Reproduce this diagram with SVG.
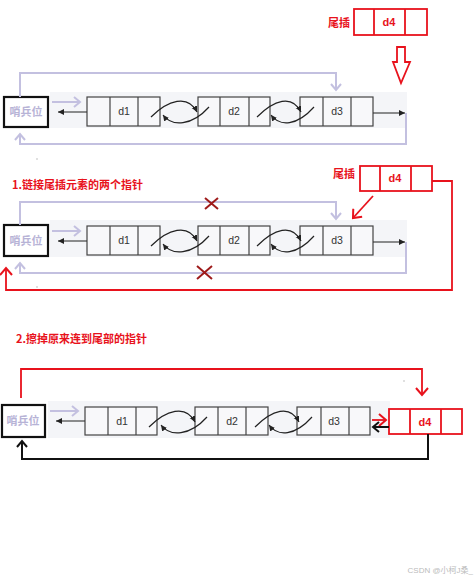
<svg xmlns="http://www.w3.org/2000/svg" width="474" height="578" viewBox="0 0 474 578">
<style>
.band{fill:#f4f5f8}
.box{fill:#f8f8fa;stroke:#444;stroke-width:1.2}
.sent{fill:#fff;stroke:#111;stroke-width:2.2}
.st{font-family:"Noto Sans CJK SC","Liberation Sans",sans-serif;font-weight:bold;font-size:11px;fill:#b7b3d6;text-anchor:middle}
.dt{font-family:"Liberation Sans",sans-serif;font-size:10.5px;fill:#333;text-anchor:middle}
.rt{font-family:"Liberation Sans",sans-serif;font-weight:bold;font-size:11px;fill:#e8121c;text-anchor:middle}
.lbl{font-family:"Noto Sans CJK SC",sans-serif;font-weight:bold;font-size:11px;fill:#e8121c}
.rbox{fill:#fff;stroke:#e8121c;stroke-width:1.8}
.pl{fill:none;stroke:#c3c0e0;stroke-width:2}
.bl{fill:none;stroke:#333;stroke-width:1.1}
.cv{fill:none;stroke:#222;stroke-width:1.2}
.red{fill:none;stroke:#e8121c;stroke-width:1.8}
.blk{fill:none;stroke:#111;stroke-width:2}
.x{stroke:#9e1b1b;stroke-width:2}
</style>
<defs>
<marker id="pa" markerWidth="12" markerHeight="12" refX="7" refY="6" orient="auto" markerUnits="userSpaceOnUse"><path d="M1,1 L7,6 L1,11" fill="none" stroke="#c3c0e0" stroke-width="2"/></marker>
<marker id="ba" markerWidth="8" markerHeight="8" refX="6" refY="4" orient="auto" markerUnits="userSpaceOnUse"><path d="M0,1 L6,4 L0,7 Z" fill="#222"/></marker>
<marker id="ra" markerWidth="14" markerHeight="14" refX="8" refY="7" orient="auto" markerUnits="userSpaceOnUse"><path d="M1,1 L8,7 L1,13" fill="none" stroke="#e8121c" stroke-width="2"/></marker>
<marker id="ka" markerWidth="12" markerHeight="12" refX="7" refY="6" orient="auto" markerUnits="userSpaceOnUse"><path d="M1,1 L7,6 L1,11" fill="none" stroke="#111" stroke-width="2"/></marker>
</defs>

<!-- ===== Section 1 ===== -->
<text class="lbl" x="328" y="27">尾插</text>
<g id="s1-d4">
<rect class="rbox" x="354" y="9" width="73" height="26"/>
<line class="rbox" x1="374" y1="9" x2="374" y2="35"/>
<line class="rbox" x1="405" y1="9" x2="405" y2="35"/>
<text class="rt" x="389" y="26">d4</text>
</g>
<path d="M397,47 H405 V62 H410 L401,83 L393,62 H397 Z" fill="#fff" stroke="#e8121c" stroke-width="1.8"/>

<g id="sec1">
<rect class="band" x="50" y="92" width="357" height="36"/>
<g id="s1-sentinel"><rect class="sent" x="4" y="97" width="44" height="30"/><text class="st" x="26" y="116">哨兵位</text></g>
<g id="s1-d1"><rect class="box" x="87" y="97" width="73" height="29"/><line class="box" x1="110" y1="97" x2="110" y2="126"/><line class="box" x1="138" y1="97" x2="138" y2="126"/><text class="dt" x="124" y="115">d1</text></g>
<g id="s1-d2"><rect class="box" x="198" y="97" width="72" height="29"/><line class="box" x1="220" y1="97" x2="220" y2="126"/><line class="box" x1="249" y1="97" x2="249" y2="126"/><text class="dt" x="234" y="115">d2</text></g>
<g id="s1-d3"><rect class="box" x="300" y="97" width="73" height="29"/><line class="box" x1="323" y1="97" x2="323" y2="126"/><line class="box" x1="351" y1="97" x2="351" y2="126"/><text class="dt" x="337" y="115">d3</text></g>
<g id="s1-connectors">
<path class="pl" d="M20,97 V73 H336 V90" marker-end="url(#pa)"/>
<path class="pl" d="M52,102 H80" marker-end="url(#pa)"/>
<path class="pl" d="M406,113 V144 H20 V134" marker-end="url(#pa)"/>
<path class="bl" d="M87,112 H58" marker-end="url(#ba)"/>
<path class="bl" d="M373,113 H405" marker-end="url(#ba)"/>
<path class="cv" d="M151,117 C168,100 188,94 197,112" marker-end="url(#ba)"/>
<path class="cv" d="M209,107 C192,126 172,127 163,115" marker-end="url(#ba)"/>
<path class="cv" d="M257,117 C274,100 292,94 301,112" marker-end="url(#ba)"/>
<path class="cv" d="M314,107 C297,126 280,127 271,115" marker-end="url(#ba)"/>
</g>
</g>
<circle cx="37" cy="159" r="0.7" fill="#aaa"/>

<!-- ===== Section 2 ===== -->
<text class="lbl" x="12" y="189">1.链接尾插元素的两个指针</text>
<text class="lbl" x="333" y="178">尾插</text>
<g id="s2-d4">
<rect class="rbox" x="360" y="166" width="72" height="25"/>
<line class="rbox" x1="380" y1="166" x2="380" y2="191"/>
<line class="rbox" x1="411" y1="166" x2="411" y2="191"/>
<text class="rt" x="395" y="182">d4</text>
</g>
<g id="sec2" transform="translate(0,129)">
<rect class="band" x="50" y="91" width="357" height="37"/>
<g id="s2-sentinel"><rect class="sent" x="4" y="96" width="44" height="31"/><text class="st" x="26" y="116">哨兵位</text></g>
<g id="s2-d1"><rect class="box" x="87" y="97" width="73" height="29"/><line class="box" x1="110" y1="97" x2="110" y2="126"/><line class="box" x1="138" y1="97" x2="138" y2="126"/><text class="dt" x="124" y="115">d1</text></g>
<g id="s2-d2"><rect class="box" x="198" y="97" width="72" height="29"/><line class="box" x1="220" y1="97" x2="220" y2="126"/><line class="box" x1="249" y1="97" x2="249" y2="126"/><text class="dt" x="234" y="115">d2</text></g>
<g id="s2-d3"><rect class="box" x="300" y="97" width="73" height="29"/><line class="box" x1="323" y1="97" x2="323" y2="126"/><line class="box" x1="351" y1="97" x2="351" y2="126"/><text class="dt" x="337" y="115">d3</text></g>
<g id="s2-connectors">
<path class="pl" d="M20,96 V73 H336 V90" marker-end="url(#pa)"/>
<path class="pl" d="M52,102 H80" marker-end="url(#pa)"/>
<path class="pl" d="M406,113 V144 H20 V134" marker-end="url(#pa)"/>
<path class="bl" d="M87,112 H58" marker-end="url(#ba)"/>
<path class="bl" d="M373,113 H405" marker-end="url(#ba)"/>
<path class="cv" d="M151,117 C168,100 188,94 197,112" marker-end="url(#ba)"/>
<path class="cv" d="M209,107 C192,126 172,127 163,115" marker-end="url(#ba)"/>
<path class="cv" d="M257,117 C274,100 292,94 301,112" marker-end="url(#ba)"/>
<path class="cv" d="M314,107 C297,126 280,127 271,115" marker-end="url(#ba)"/>
</g>
</g>
<g id="s2-red-connectors">
<path class="red" d="M432,181 H452 V290 H6 V268" marker-end="url(#ra)"/>
<path class="red" d="M373,196 L353,218" marker-end="url(#ra)"/>
<path class="x" d="M205,198 L218,209 M218,198 L205,209"/>
<path class="x" d="M197,266 L212,279 M212,266 L197,279"/>
</g>
<circle cx="37" cy="287" r="0.7" fill="#aaa"/>

<!-- ===== Section 3 ===== -->
<text class="lbl" x="16" y="343">2.擦掉原来连到尾部的指针</text>
<g id="sec3" transform="translate(-2,310)">
<rect class="band" x="50" y="91" width="342" height="37"/>
<g id="s3-sentinel"><rect class="sent" x="4" y="95" width="43" height="32"/><text class="st" x="25" y="115">哨兵位</text></g>
<g id="s3-d1"><rect class="box" x="87" y="97" width="72" height="28"/><line class="box" x1="110" y1="97" x2="110" y2="125"/><line class="box" x1="138" y1="97" x2="138" y2="125"/><text class="dt" x="124" y="115">d1</text></g>
<g id="s3-d2"><rect class="box" x="197" y="97" width="73" height="28"/><line class="box" x1="220" y1="97" x2="220" y2="125"/><line class="box" x1="248" y1="97" x2="248" y2="125"/><text class="dt" x="234" y="115">d2</text></g>
<g id="s3-d3"><rect class="box" x="299" y="97" width="73" height="28"/><line class="box" x1="323" y1="97" x2="323" y2="125"/><line class="box" x1="351" y1="97" x2="351" y2="125"/><text class="dt" x="336" y="115">d3</text></g>
<g id="s3-connectors">
<path class="pl" d="M52,101 H80" marker-end="url(#pa)"/>
<path class="bl" d="M87,111 H58" marker-end="url(#ba)"/>
<path class="cv" d="M151,117 C168,100 188,94 197,112" marker-end="url(#ba)"/>
<path class="cv" d="M209,107 C192,126 172,127 163,115" marker-end="url(#ba)"/>
<path class="cv" d="M257,117 C274,100 292,94 301,112" marker-end="url(#ba)"/>
<path class="cv" d="M314,107 C297,126 280,127 271,115" marker-end="url(#ba)"/>
</g>
</g>
<g id="s3-d4">
<rect class="rbox" x="389" y="409" width="73" height="25"/>
<line class="rbox" x1="410" y1="409" x2="410" y2="434"/>
<line class="rbox" x1="441" y1="409" x2="441" y2="434"/>
<text class="rt" x="425" y="426">d4</text>
</g>
<g id="s3-red-black-connectors">
<path class="red" d="M21,398 V369 H422 V395" marker-end="url(#ra)"/>
<path class="red" d="M372,420 H386" marker-end="url(#ra)"/>
<path class="blk" d="M389,427 H373" marker-end="url(#ka)"/>
<path class="blk" d="M428,434 V459 H22 V441" marker-end="url(#ka)"/>
</g>
<circle cx="404" cy="381" r="0.7" fill="#aaa"/>

<text x="473" y="573" text-anchor="end" font-family="Liberation Sans, Noto Sans CJK SC, sans-serif" font-size="8" fill="#bbb">CSDN @小柯J桑_</text>
</svg>
